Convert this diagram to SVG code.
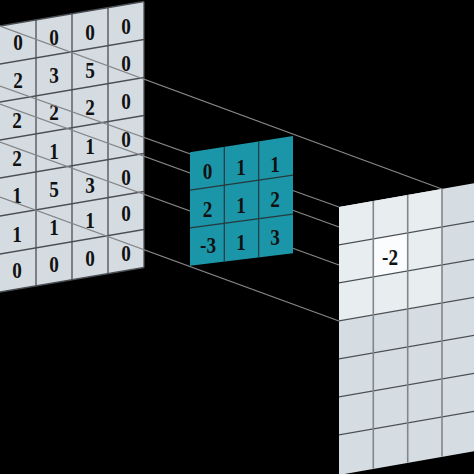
<svg xmlns="http://www.w3.org/2000/svg" width="474" height="474" viewBox="0 0 474 474">
<style>
.num{font-family:"Liberation Serif","Times New Roman",serif;font-weight:bold;font-size:24px;text-anchor:middle;fill:#111}
.gl{stroke:#4a4f54;stroke-width:1.3;fill:none}
.vl{stroke:#80868b;stroke-width:1.6;fill:none}
.kl{stroke:#26393d;stroke-width:1.2;fill:none}
.pl{stroke:#858585;stroke-width:1.3;fill:none}
</style>
<rect width="474" height="474" fill="#000"/>
<g id="input">
<g transform="matrix(1,-0.17,0,1,0,0)">
<rect x="-2" y="26" width="146" height="266" fill="#d4dce2"/>
<path class="gl" d="M-2 64H144M-2 102H144M-2 140H144M-2 178H144M-2 216H144M-2 254H144M-2 26H144M-2 292H144"/>
<path class="gl" d="M36 26V292M72 26V292M108 26V292M144 26V292"/>
</g>
<text class="num" transform="translate(18,50) scale(0.8,1)">0</text>
<text class="num" transform="translate(54,45) scale(0.8,1)">0</text>
<text class="num" transform="translate(90,40) scale(0.8,1)">0</text>
<text class="num" transform="translate(126,34) scale(0.8,1)">0</text>
<text class="num" transform="translate(18,88) scale(0.8,1)">2</text>
<text class="num" transform="translate(54,83) scale(0.8,1)">3</text>
<text class="num" transform="translate(90,78) scale(0.8,1)">5</text>
<text class="num" transform="translate(126,71) scale(0.8,1)">0</text>
<text class="num" transform="translate(17,128) scale(0.8,1)">2</text>
<text class="num" transform="translate(54,120) scale(0.8,1)">2</text>
<text class="num" transform="translate(90,115) scale(0.8,1)">2</text>
<text class="num" transform="translate(126,109) scale(0.8,1)">0</text>
<text class="num" transform="translate(17,166) scale(0.8,1)">2</text>
<text class="num" transform="translate(54,159) scale(0.8,1)">1</text>
<text class="num" transform="translate(90,154) scale(0.8,1)">1</text>
<text class="num" transform="translate(126,147) scale(0.8,1)">0</text>
<text class="num" transform="translate(17,203) scale(0.8,1)">1</text>
<text class="num" transform="translate(54,197) scale(0.8,1)">5</text>
<text class="num" transform="translate(90,193) scale(0.8,1)">3</text>
<text class="num" transform="translate(126,185) scale(0.8,1)">0</text>
<text class="num" transform="translate(17,242) scale(0.8,1)">1</text>
<text class="num" transform="translate(54,235) scale(0.8,1)">1</text>
<text class="num" transform="translate(90,228) scale(0.8,1)">1</text>
<text class="num" transform="translate(126,221) scale(0.8,1)">0</text>
<text class="num" transform="translate(17,278) scale(0.8,1)">0</text>
<text class="num" transform="translate(54,272) scale(0.8,1)">0</text>
<text class="num" transform="translate(90,266) scale(0.8,1)">0</text>
<text class="num" transform="translate(126,261) scale(0.8,1)">0</text>
</g>
<g id="connectors">
<line class="pl" x1="0" y1="26" x2="442" y2="189"/>
<line class="pl" x1="0" y1="86" x2="339" y2="207"/>
<line class="pl" x1="0" y1="104" x2="339" y2="227"/>
<line class="pl" x1="0" y1="142" x2="339" y2="265"/>
<line class="pl" x1="0" y1="197" x2="339" y2="321"/>
</g>
<g id="kernel">
<polygon points="190,152.3 293,136 293,253.3 190,265.7" fill="#1b96a8"/>
<path class="kl" d="M190 190.1L293 175.1M190 227.9L293 214.2M224.3 146.9V261.6M258.7 141.4V257.4"/>
<text class="num" transform="translate(207.5,178.5) scale(0.8,1)">0</text>
<text class="num" transform="translate(241,174.5) scale(0.8,1)">1</text>
<text class="num" transform="translate(275,171.5) scale(0.8,1)">1</text>
<text class="num" transform="translate(207.5,216.5) scale(0.8,1)">2</text>
<text class="num" transform="translate(241,212.5) scale(0.8,1)">1</text>
<text class="num" transform="translate(275,206.5) scale(0.8,1)">2</text>
<text class="num" transform="translate(208,253) scale(0.8,1)">-3</text>
<text class="num" transform="translate(241,249.5) scale(0.8,1)">1</text>
<text class="num" transform="translate(275,244.5) scale(0.8,1)">3</text>
</g>
<g id="output">
<g transform="matrix(1,-0.175,0,1,0,0)">
<rect x="339" y="266.3" width="142" height="268" fill="#d5dde3"/>
<rect x="339" y="266.3" width="103" height="114" fill="#e8edf0"/>
<rect x="373.3" y="304.3" width="34.4" height="38" fill="#fbfcfd"/>
<path class="gl" d="M339 304.3H481M339 342.3H481M339 380.3H481M339 418.3H481M339 456.3H481M339 494.3H481"/>
<path class="vl" d="M373.3 266.3V534M407.7 266.3V534M442 266.3V534"/>
</g>
<text class="num" transform="translate(390,265) scale(0.8,1)">-2</text>
</g>
</svg>
